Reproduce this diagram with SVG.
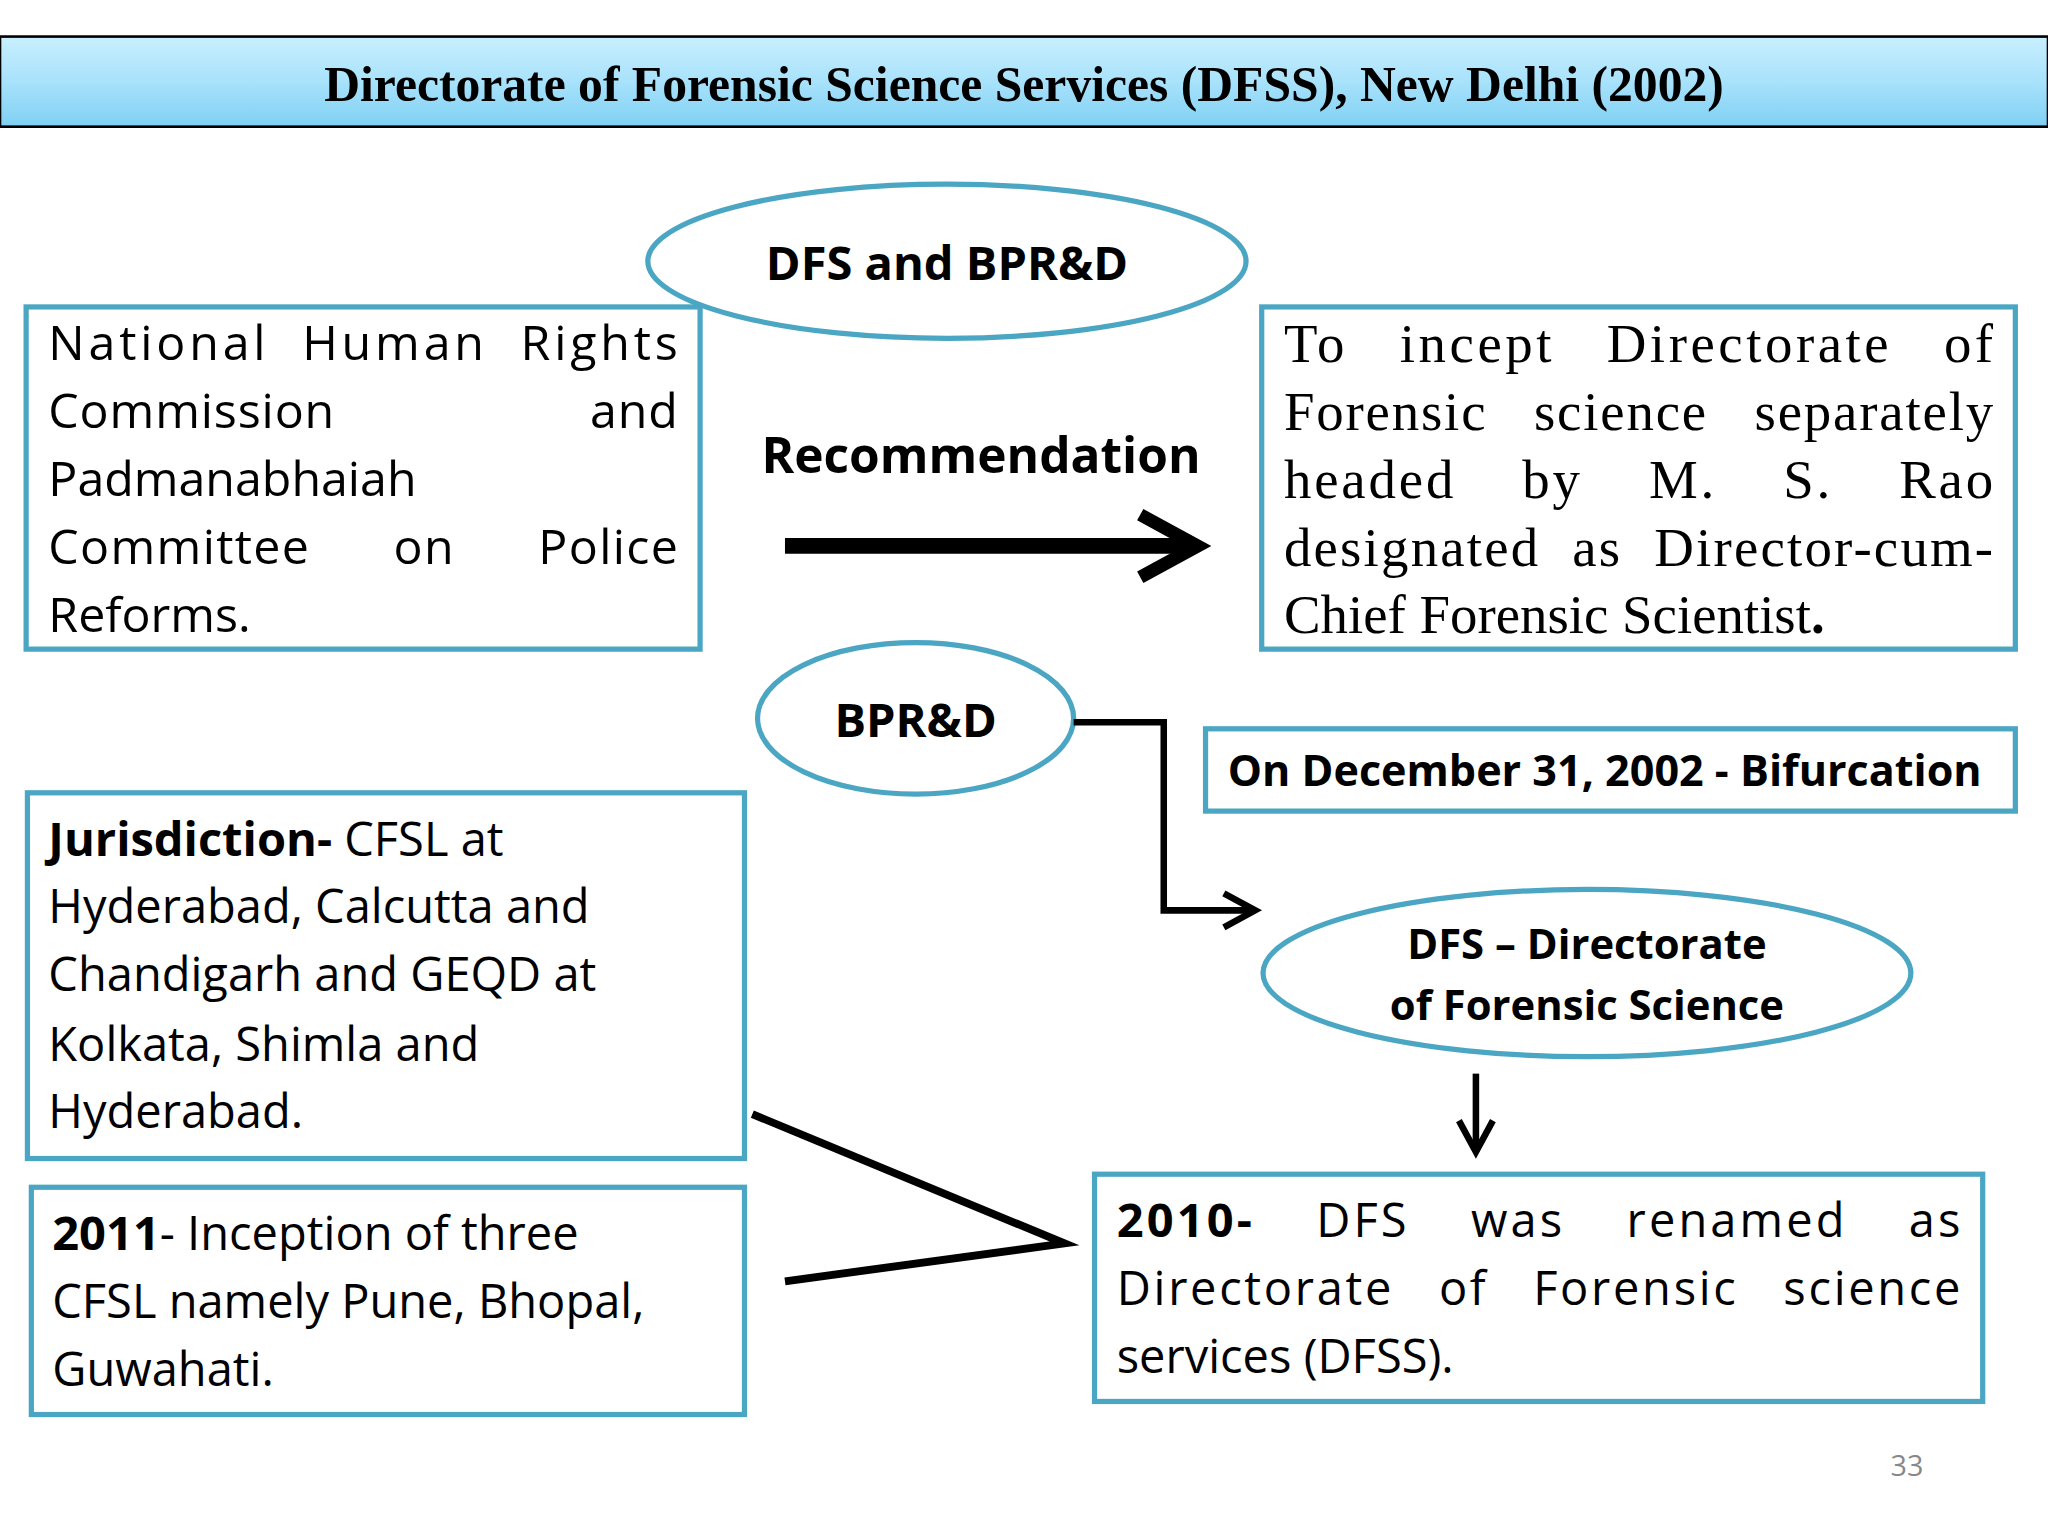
<svg xmlns="http://www.w3.org/2000/svg" width="2048" height="1536" viewBox="0 0 2048 1536">
<defs>
<linearGradient id="tg" x1="0" y1="0" x2="0" y2="1"><stop offset="0" stop-color="#c9efff"/><stop offset="0.5" stop-color="#a8e2fb"/><stop offset="1" stop-color="#7fd0f3"/></linearGradient>
<style>
.box{fill:#fff;stroke:#4aa6c3;stroke-width:4}
.ell{fill:#fff;stroke:#4aa6c3;stroke-width:4}
.s{font-family:"Open Sans","Noto Sans","DejaVu Sans",sans-serif;fill:#000}
.b{font-weight:bold}
.r{font-family:"Liberation Serif","Times New Roman",serif;fill:#000}
.ln{fill:none;stroke:#000;stroke-linecap:butt;stroke-linejoin:miter}
</style>
</defs>
<rect width="2048" height="1536" fill="#fff"/>
<g transform="scale(1.30612)">
<g id="title">
<rect x="0" y="28" width="1568" height="69" fill="url(#tg)" stroke="#000" stroke-width="2"/>
<text x="784" y="77" text-anchor="middle" class="r b" font-size="38">Directorate of Forensic Science Services (DFSS), New Delhi (2002)</text>
</g>
<g id="dfs-bprd">
<ellipse cx="725" cy="200" rx="229" ry="59" class="ell"/>
<text x="725" y="214" text-anchor="middle" class="s b" font-size="36">DFS and BPR&amp;D</text>
</g>
<g id="nhrc">
<rect x="20" y="235" width="516" height="262" class="box"/>
<g class="s" font-size="37">
<text x="37" y="276" textLength="482" lengthAdjust="spacing" xml:space="preserve">National  Human  Rights</text>
<text x="37" y="328" textLength="482" lengthAdjust="spacing" xml:space="preserve">Commission                   and</text>
<text x="37" y="380">Padmanabhaiah</text>
<text x="37" y="432" textLength="482" lengthAdjust="spacing" xml:space="preserve">Committee      on      Police</text>
<text x="37" y="484">Reforms.</text>
</g>
</g>
<g id="recommendation">
<text x="583" y="362" class="s b" font-size="38">Recommendation</text>
</g>
<g id="incept">
<rect x="966" y="235" width="577" height="262" class="box"/>
<g class="r" font-size="42">
<text x="983" y="277" textLength="543" lengthAdjust="spacing" xml:space="preserve">To   incept   Directorate   of</text>
<text x="983" y="329" textLength="543" lengthAdjust="spacing" xml:space="preserve">Forensic   science   separately</text>
<text x="983" y="381" textLength="543" lengthAdjust="spacing" xml:space="preserve">headed    by    M.    S.    Rao</text>
<text x="983" y="433" textLength="543" lengthAdjust="spacing" xml:space="preserve">designated  as  Director-cum-</text>
<text x="983" y="485">Chief Forensic Scientist<tspan font-weight="bold">.</tspan></text>
</g>
</g>
<g id="bprd">
<ellipse cx="701" cy="550" rx="121" ry="58" class="ell"/>
<text x="701" y="564" text-anchor="middle" class="s b" font-size="36">BPR&amp;D</text>
</g>
<g id="bifurcation">
<rect x="923" y="558" width="620" height="63" class="box"/>
<text x="940" y="602" class="s b" font-size="33">On December 31, 2002 - Bifurcation</text>
</g>
<g id="dfs">
<ellipse cx="1215" cy="745" rx="248" ry="64" class="ell"/>
<text x="1215" y="734" text-anchor="middle" class="s b" font-size="32">DFS – Directorate</text>
<text x="1215" y="781" text-anchor="middle" class="s b" font-size="32">of Forensic Science</text>
</g>
<g id="jurisdiction">
<rect x="21" y="607" width="549" height="280" class="box"/>
<g class="s" font-size="36">
<text x="37" y="655"><tspan font-weight="bold">Jurisdiction-</tspan> CFSL at</text>
<text x="37" y="707">Hyderabad, Calcutta and</text>
<text x="37" y="759">Chandigarh and GEQD at</text>
<text x="37" y="812">Kolkata, Shimla and</text>
<text x="37" y="864">Hyderabad.</text>
</g>
</g>
<g id="y2011">
<rect x="24" y="909" width="546" height="174" class="box"/>
<g class="s" font-size="36">
<text x="40" y="957"><tspan font-weight="bold">2011</tspan>- Inception of three</text>
<text x="40" y="1009">CFSL namely Pune, Bhopal,</text>
<text x="40" y="1061">Guwahati.</text>
</g>
</g>
<g id="y2010">
<rect x="838" y="899" width="680" height="174" class="box"/>
<g class="s" font-size="36">
<text x="855" y="947" textLength="646" lengthAdjust="spacing" xml:space="preserve"><tspan font-weight="bold">2010-</tspan>    DFS    was    renamed    as</text>
<text x="855" y="999" textLength="646" lengthAdjust="spacing" xml:space="preserve">Directorate   of   Forensic   science</text>
<text x="855" y="1051">services (DFSS).</text>
</g>
</g>
<g id="connectors">
<line x1="601" y1="418" x2="912" y2="418" class="ln" stroke-width="12"/>
<polyline points="873,394 917,418 873,442" class="ln" stroke-width="10"/>
<polyline points="822,553 891,553 891,697 958,697" class="ln" stroke-width="5"/>
<polyline points="937,684 961,697 937,710" class="ln" stroke-width="5"/>
<line x1="1130" y1="822" x2="1130" y2="882" class="ln" stroke-width="5"/>
<polyline points="1117,858 1130,882 1143,858" class="ln" stroke-width="5"/>
<polyline points="576,853 815,952 601,981" class="ln" stroke-width="6"/>
</g>
<text x="1460" y="1130" text-anchor="middle" font-family="Open Sans, sans-serif" font-size="22" fill="#888">33</text>
</g>
</svg>
